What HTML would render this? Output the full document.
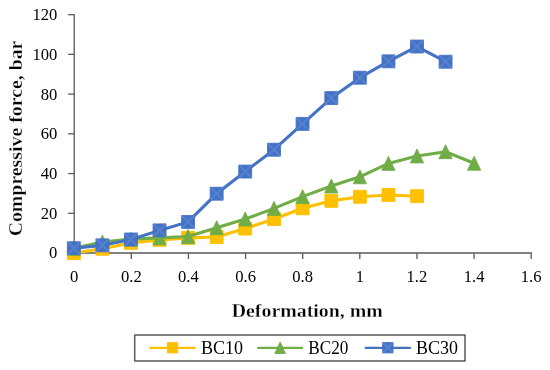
<!DOCTYPE html><html><head><meta charset="utf-8"><title>chart</title><style>html,body{margin:0;padding:0;background:#fff}svg{display:block}</style></head><body><svg width="550" height="370" viewBox="0 0 550 370">
<rect width="550" height="370" fill="#fff"/>
<g stroke="#5a5a5a" stroke-width="1.3" fill="none">
<path d="M74.2 14.0 V253.0 H531.85"/>
<path d="M68.20 253.00 H74.2"/>
<path d="M68.20 213.28 H74.2"/>
<path d="M68.20 173.55 H74.2"/>
<path d="M68.20 133.82 H74.2"/>
<path d="M68.20 94.10 H74.2"/>
<path d="M68.20 54.38 H74.2"/>
<path d="M68.20 14.65 H74.2"/>
<path d="M74.20 253.0 V259.0"/>
<path d="M131.32 253.0 V259.0"/>
<path d="M188.45 253.0 V259.0"/>
<path d="M245.58 253.0 V259.0"/>
<path d="M302.70 253.0 V259.0"/>
<path d="M359.82 253.0 V259.0"/>
<path d="M416.95 253.0 V259.0"/>
<path d="M474.08 253.0 V259.0"/>
<path d="M531.20 253.0 V259.0"/>
</g>
<g font-family="'Liberation Serif', serif" font-size="16.6" fill="#000">
<text x="57.3" y="258.40" text-anchor="end">0</text>
<text x="57.3" y="218.68" text-anchor="end">20</text>
<text x="57.3" y="178.95" text-anchor="end">40</text>
<text x="57.3" y="139.22" text-anchor="end">60</text>
<text x="57.3" y="99.50" text-anchor="end">80</text>
<text x="57.3" y="59.78" text-anchor="end">100</text>
<text x="57.3" y="20.05" text-anchor="end">120</text>
<text x="74.20" y="281.6" text-anchor="middle">0</text>
<text x="131.32" y="281.6" text-anchor="middle">0.2</text>
<text x="188.45" y="281.6" text-anchor="middle">0.4</text>
<text x="245.58" y="281.6" text-anchor="middle">0.6</text>
<text x="302.70" y="281.6" text-anchor="middle">0.8</text>
<text x="359.82" y="281.6" text-anchor="middle">1</text>
<text x="416.95" y="281.6" text-anchor="middle">1.2</text>
<text x="474.08" y="281.6" text-anchor="middle">1.4</text>
<text x="531.20" y="281.6" text-anchor="middle">1.6</text>
</g>
<g font-family="'Liberation Serif', serif" font-size="19.6" font-weight="bold" fill="#000" stroke="#fff" stroke-width="0.3">
<text x="307.3" y="316.8" text-anchor="middle" textLength="151.2" lengthAdjust="spacingAndGlyphs">Deformation, mm</text>
<text transform="translate(22.2 138.5) rotate(-90)" font-size="19.7" text-anchor="middle" textLength="195.7" lengthAdjust="spacingAndGlyphs">Compressive force, bar</text>
</g>
<polyline fill="none" stroke="#ffc000" stroke-width="3.1" stroke-linejoin="round" stroke-linecap="round" points="73.85,253.00 102.41,248.83 130.98,242.87 159.54,239.89 188.10,237.90 216.66,237.01 245.23,228.57 273.99,219.04 302.55,208.31 331.31,200.86 359.88,196.79 388.44,195.00 417.00,196.19"/>
<rect x="67.40" y="246.55" width="12.90" height="12.90" fill="#ffc000" stroke="#ffc000" stroke-width="0.9" stroke-linejoin="round"/>
<rect x="95.96" y="242.38" width="12.90" height="12.90" fill="#ffc000" stroke="#ffc000" stroke-width="0.9" stroke-linejoin="round"/>
<rect x="124.53" y="236.42" width="12.90" height="12.90" fill="#ffc000" stroke="#ffc000" stroke-width="0.9" stroke-linejoin="round"/>
<rect x="153.09" y="233.44" width="12.90" height="12.90" fill="#ffc000" stroke="#ffc000" stroke-width="0.9" stroke-linejoin="round"/>
<rect x="181.65" y="231.45" width="12.90" height="12.90" fill="#ffc000" stroke="#ffc000" stroke-width="0.9" stroke-linejoin="round"/>
<rect x="210.21" y="230.56" width="12.90" height="12.90" fill="#ffc000" stroke="#ffc000" stroke-width="0.9" stroke-linejoin="round"/>
<rect x="238.78" y="222.12" width="12.90" height="12.90" fill="#ffc000" stroke="#ffc000" stroke-width="0.9" stroke-linejoin="round"/>
<rect x="267.54" y="212.59" width="12.90" height="12.90" fill="#ffc000" stroke="#ffc000" stroke-width="0.9" stroke-linejoin="round"/>
<rect x="296.10" y="201.86" width="12.90" height="12.90" fill="#ffc000" stroke="#ffc000" stroke-width="0.9" stroke-linejoin="round"/>
<rect x="324.86" y="194.41" width="12.90" height="12.90" fill="#ffc000" stroke="#ffc000" stroke-width="0.9" stroke-linejoin="round"/>
<rect x="353.43" y="190.34" width="12.90" height="12.90" fill="#ffc000" stroke="#ffc000" stroke-width="0.9" stroke-linejoin="round"/>
<rect x="381.99" y="188.55" width="12.90" height="12.90" fill="#ffc000" stroke="#ffc000" stroke-width="0.9" stroke-linejoin="round"/>
<rect x="410.55" y="189.74" width="12.90" height="12.90" fill="#ffc000" stroke="#ffc000" stroke-width="0.9" stroke-linejoin="round"/>
<polyline fill="none" stroke="#70ad47" stroke-width="3.1" stroke-linejoin="round" stroke-linecap="round" points="73.85,248.23 102.41,242.08 130.98,239.10 159.54,237.90 188.10,236.51 216.66,227.68 245.23,219.04 273.99,208.41 302.55,196.59 331.31,186.06 359.88,176.83 388.44,163.42 417.00,155.97 445.56,151.70 474.13,163.22"/>
<path d="M73.85 241.28 L80.40 255.18 H67.30 Z" fill="#70ad47" stroke="#70ad47" stroke-width="0.9" stroke-linejoin="round"/>
<path d="M102.41 235.13 L108.96 249.03 H95.86 Z" fill="#70ad47" stroke="#70ad47" stroke-width="0.9" stroke-linejoin="round"/>
<path d="M130.98 232.15 L137.53 246.05 H124.43 Z" fill="#70ad47" stroke="#70ad47" stroke-width="0.9" stroke-linejoin="round"/>
<path d="M159.54 230.95 L166.09 244.85 H152.99 Z" fill="#70ad47" stroke="#70ad47" stroke-width="0.9" stroke-linejoin="round"/>
<path d="M188.10 229.56 L194.65 243.46 H181.55 Z" fill="#70ad47" stroke="#70ad47" stroke-width="0.9" stroke-linejoin="round"/>
<path d="M216.66 220.73 L223.21 234.63 H210.11 Z" fill="#70ad47" stroke="#70ad47" stroke-width="0.9" stroke-linejoin="round"/>
<path d="M245.23 212.09 L251.78 225.99 H238.68 Z" fill="#70ad47" stroke="#70ad47" stroke-width="0.9" stroke-linejoin="round"/>
<path d="M273.99 201.46 L280.54 215.36 H267.44 Z" fill="#70ad47" stroke="#70ad47" stroke-width="0.9" stroke-linejoin="round"/>
<path d="M302.55 189.64 L309.10 203.54 H296.00 Z" fill="#70ad47" stroke="#70ad47" stroke-width="0.9" stroke-linejoin="round"/>
<path d="M331.31 179.11 L337.86 193.01 H324.76 Z" fill="#70ad47" stroke="#70ad47" stroke-width="0.9" stroke-linejoin="round"/>
<path d="M359.88 169.88 L366.43 183.78 H353.32 Z" fill="#70ad47" stroke="#70ad47" stroke-width="0.9" stroke-linejoin="round"/>
<path d="M388.44 156.47 L394.99 170.37 H381.89 Z" fill="#70ad47" stroke="#70ad47" stroke-width="0.9" stroke-linejoin="round"/>
<path d="M417.00 149.02 L423.55 162.92 H410.45 Z" fill="#70ad47" stroke="#70ad47" stroke-width="0.9" stroke-linejoin="round"/>
<path d="M445.56 144.75 L452.11 158.65 H439.01 Z" fill="#70ad47" stroke="#70ad47" stroke-width="0.9" stroke-linejoin="round"/>
<path d="M474.13 156.27 L480.68 170.17 H467.58 Z" fill="#70ad47" stroke="#70ad47" stroke-width="0.9" stroke-linejoin="round"/>
<polyline fill="none" stroke="#4472c4" stroke-width="3.1" stroke-linejoin="round" stroke-linecap="round" points="73.85,248.23 102.41,245.35 130.98,239.49 159.54,230.36 188.10,221.92 216.66,193.71 245.23,171.56 273.99,149.72 302.55,123.89 331.31,98.07 359.88,77.71 388.44,61.33 417.00,46.53 445.56,61.72"/>
<rect x="67.40" y="241.78" width="12.90" height="12.90" fill="#4472c4" stroke="#4472c4" stroke-width="0.9" stroke-linejoin="round"/>
<path d="M67.40 241.78 L80.30 254.68 M80.30 241.78 L67.40 254.68" stroke="#6a94dc" stroke-opacity="0.45" stroke-width="2" fill="none"/>
<rect x="95.96" y="238.90" width="12.90" height="12.90" fill="#4472c4" stroke="#4472c4" stroke-width="0.9" stroke-linejoin="round"/>
<path d="M95.96 238.90 L108.86 251.80 M108.86 238.90 L95.96 251.80" stroke="#6a94dc" stroke-opacity="0.45" stroke-width="2" fill="none"/>
<rect x="124.53" y="233.04" width="12.90" height="12.90" fill="#4472c4" stroke="#4472c4" stroke-width="0.9" stroke-linejoin="round"/>
<path d="M124.53 233.04 L137.43 245.94 M137.43 233.04 L124.53 245.94" stroke="#6a94dc" stroke-opacity="0.45" stroke-width="2" fill="none"/>
<rect x="153.09" y="223.91" width="12.90" height="12.90" fill="#4472c4" stroke="#4472c4" stroke-width="0.9" stroke-linejoin="round"/>
<path d="M153.09 223.91 L165.99 236.81 M165.99 223.91 L153.09 236.81" stroke="#6a94dc" stroke-opacity="0.45" stroke-width="2" fill="none"/>
<rect x="181.65" y="215.47" width="12.90" height="12.90" fill="#4472c4" stroke="#4472c4" stroke-width="0.9" stroke-linejoin="round"/>
<path d="M181.65 215.47 L194.55 228.37 M194.55 215.47 L181.65 228.37" stroke="#6a94dc" stroke-opacity="0.45" stroke-width="2" fill="none"/>
<rect x="210.21" y="187.26" width="12.90" height="12.90" fill="#4472c4" stroke="#4472c4" stroke-width="0.9" stroke-linejoin="round"/>
<path d="M210.21 187.26 L223.11 200.16 M223.11 187.26 L210.21 200.16" stroke="#6a94dc" stroke-opacity="0.45" stroke-width="2" fill="none"/>
<rect x="238.78" y="165.11" width="12.90" height="12.90" fill="#4472c4" stroke="#4472c4" stroke-width="0.9" stroke-linejoin="round"/>
<path d="M238.78 165.11 L251.68 178.01 M251.68 165.11 L238.78 178.01" stroke="#6a94dc" stroke-opacity="0.45" stroke-width="2" fill="none"/>
<rect x="267.54" y="143.27" width="12.90" height="12.90" fill="#4472c4" stroke="#4472c4" stroke-width="0.9" stroke-linejoin="round"/>
<path d="M267.54 143.27 L280.44 156.16 M280.44 143.27 L267.54 156.16" stroke="#6a94dc" stroke-opacity="0.45" stroke-width="2" fill="none"/>
<rect x="296.10" y="117.44" width="12.90" height="12.90" fill="#4472c4" stroke="#4472c4" stroke-width="0.9" stroke-linejoin="round"/>
<path d="M296.10 117.44 L309.00 130.34 M309.00 117.44 L296.10 130.34" stroke="#6a94dc" stroke-opacity="0.45" stroke-width="2" fill="none"/>
<rect x="324.86" y="91.62" width="12.90" height="12.90" fill="#4472c4" stroke="#4472c4" stroke-width="0.9" stroke-linejoin="round"/>
<path d="M324.86 91.62 L337.76 104.52 M337.76 91.62 L324.86 104.52" stroke="#6a94dc" stroke-opacity="0.45" stroke-width="2" fill="none"/>
<rect x="353.43" y="71.26" width="12.90" height="12.90" fill="#4472c4" stroke="#4472c4" stroke-width="0.9" stroke-linejoin="round"/>
<path d="M353.43 71.26 L366.32 84.16 M366.32 71.26 L353.43 84.16" stroke="#6a94dc" stroke-opacity="0.45" stroke-width="2" fill="none"/>
<rect x="381.99" y="54.88" width="12.90" height="12.90" fill="#4472c4" stroke="#4472c4" stroke-width="0.9" stroke-linejoin="round"/>
<path d="M381.99 54.88 L394.89 67.78 M394.89 54.88 L381.99 67.78" stroke="#6a94dc" stroke-opacity="0.45" stroke-width="2" fill="none"/>
<rect x="410.55" y="40.08" width="12.90" height="12.90" fill="#4472c4" stroke="#4472c4" stroke-width="0.9" stroke-linejoin="round"/>
<path d="M410.55 40.08 L423.45 52.98 M423.45 40.08 L410.55 52.98" stroke="#6a94dc" stroke-opacity="0.45" stroke-width="2" fill="none"/>
<rect x="439.11" y="55.27" width="12.90" height="12.90" fill="#4472c4" stroke="#4472c4" stroke-width="0.9" stroke-linejoin="round"/>
<path d="M439.11 55.27 L452.01 68.17 M452.01 55.27 L439.11 68.17" stroke="#6a94dc" stroke-opacity="0.45" stroke-width="2" fill="none"/>
<rect x="134.7" y="335.0" width="330.3" height="25.9" fill="#fff" stroke="#585858" stroke-width="1.5" stroke-linejoin="round"/>
<path d="M150.3 347.95 H194.8" stroke="#ffc000" stroke-width="2.3" stroke-linecap="round"/>
<rect x="167.35" y="342.50" width="10.40" height="10.40" fill="#ffc000" stroke="#ffc000" stroke-width="0.9" stroke-linejoin="round"/>
<text x="200.9" y="353.6" font-family="'Liberation Serif', serif" font-size="18" textLength="42.1" lengthAdjust="spacingAndGlyphs">BC10</text>
<path d="M258.1 347.95 H302.2" stroke="#70ad47" stroke-width="2.3" stroke-linecap="round"/>
<path d="M280.15 342.00 L285.45 353.40 H274.85 Z" fill="#70ad47" stroke="#70ad47" stroke-width="0.9" stroke-linejoin="round"/>
<text x="308.3" y="353.6" font-family="'Liberation Serif', serif" font-size="18" textLength="40.1" lengthAdjust="spacingAndGlyphs">BC20</text>
<path d="M365.7 347.95 H410.0" stroke="#4472c4" stroke-width="2.3" stroke-linecap="round"/>
<rect x="382.65" y="342.50" width="10.40" height="10.40" fill="#4472c4" stroke="#4472c4" stroke-width="0.9" stroke-linejoin="round"/>
<path d="M382.65 342.50 L393.05 352.90 M393.05 342.50 L382.65 352.90" stroke="#6a94dc" stroke-opacity="0.45" stroke-width="2" fill="none"/>
<text x="416.1" y="353.6" font-family="'Liberation Serif', serif" font-size="18" textLength="41.9" lengthAdjust="spacingAndGlyphs">BC30</text>
</svg></body></html>
